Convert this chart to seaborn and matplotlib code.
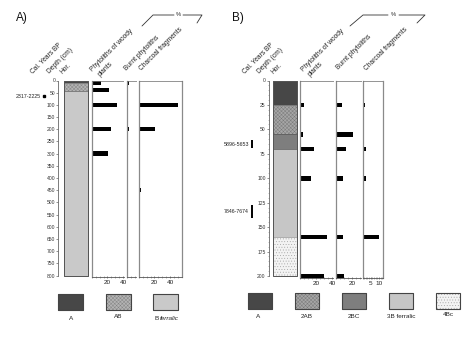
import numpy as np
import pandas as pd
import matplotlib
matplotlib.use("Agg")
import matplotlib.pyplot as plt
import matplotlib.transforms as mtransforms
from matplotlib.patches import Rectangle
from matplotlib.lines import Line2D
import seaborn as sns

sns.set_theme(style="white")
plt.rcParams["font.family"] = ["Liberation Sans", "DejaVu Sans"]
plt.rcParams["hatch.linewidth"] = 0.3

# ---------------- data: profile A ----------------
a_depth = [10, 40, 100, 200, 300, 450]
a_woody = [11, 22, 32, 25, 21, 0]
a_burnt = [2.5, 0, 1, 2, 0, 0]
a_charcoal = [0, 0, 50, 20.5, 1.5, 2.5]
a_hor_names = ["A", "AB", "B ferralic"]
a_hor_top = [0, 10, 45]
a_hor_bottom = [10, 45, 800]
a_dates = ["2317-2225"]
a_date_depth = [65]

# ---------------- data: profile B ----------------
b_depth = [25, 55, 70, 100, 160, 200]
b_woody = [5.4, 3.8, 18, 14, 34, 30]
b_burnt = [7, 21, 12.5, 8.3, 8.3, 10]
b_charcoal = [1.4, 0, 2.2, 2.2, 9.9, 1.2]
b_hor_names = ["A", "2AB", "2BC", "3B ferralic", "4Bc"]
b_hor_top = [0, 25, 55, 70, 160]
b_hor_bottom = [25, 55, 70, 160, 200]
b_dates = ["5896-5653", "7846-7674"]
b_date_top = [61, 127]
b_date_bottom = [69, 141]

headers = ["Cal. Years BP", "Depth (cm)", "Hor."]
col_titles = ["Phytoliths of woody", "plants", "Burnt phytoliths", "Charcoal fragments"]

STYLE = {
    "A": ("#474747", None, "#333333"),
    "AB": ("#b4b4b4", "xxxxxxxxx", "#808080"),
    "B ferralic": ("#c9c9c9", None, "#555555"),
    "2AB": ("#a6a6a6", "xxxxxxxxx", "#767676"),
    "2BC": ("#7e7e7e", None, "#444444"),
    "3B ferralic": ("#c6c6c6", None, "#555555"),
    "4Bc": ("#f3f3f3", "......", "#a0a0a0"),
}

W, H = 474, 351
fig = plt.figure(figsize=(W / 100, H / 100), dpi=100)


def px_axes(x0, y0, x1, y1):
    return fig.add_axes([x0 / W, 1 - y1 / H, (x1 - x0) / W, (y1 - y0) / H])


def fx(x):
    return x / W


def fy(y):
    return 1 - y / H


def column(ax, names, tops, bottoms, ylim, major, minor, offset):
    for n, t, b in zip(names, tops, bottoms):
        fc, hatch, ec = STYLE[n]
        ax.bar(0.5, b - t, bottom=t, width=1.0, color=fc, hatch=hatch,
               edgecolor=ec, linewidth=0.4, clip_on=False)
    ax.bar(0.5, bottoms[-1] - tops[0], bottom=tops[0], width=1.0, fill=False,
           edgecolor="#555555", linewidth=0.7, clip_on=False)
    ax.set_xlim(0, 1)
    ax.set_ylim(*ylim)
    for s in ["top", "right", "bottom"]:
        ax.spines[s].set_visible(False)
    ax.spines["left"].set_position(("outward", offset))
    ax.spines["left"].set_color("#666666")
    ax.spines["left"].set_linewidth(0.6)
    ax.spines["left"].set_bounds(tops[0], bottoms[-1])
    ax.set_xticks([])
    ax.set_yticks(major)
    ax.set_yticks(minor, minor=True)
    ax.tick_params(axis="y", which="major", left=True, length=1.5, width=0.5,
                   color="#666666", labelsize=3.6, pad=0.8, labelcolor="#333333")
    ax.tick_params(axis="y", which="minor", left=True, length=1.0, width=0.4,
                   color="#888888")
    ax.set_facecolor("none")


def bar_panel(ax, depths, values, xmax, ylim, wfrac, labeled, minor, right=False):
    df = pd.DataFrame({"depth": depths, "value": values})
    sns.barplot(data=df, x="value", y="depth", orient="y", native_scale=True,
                color="black", saturation=1, width=wfrac, errorbar=None,
                linewidth=0, ax=ax)
    ax.set_xlim(0, xmax)
    ax.set_ylim(*ylim)
    ax.set_xlabel("")
    ax.set_ylabel("")
    ax.set_yticks([])
    ax.set_xticks(labeled)
    ax.set_xticklabels([str(v) for v in labeled])
    ax.set_xticks(minor, minor=True)
    ax.tick_params(axis="x", which="major", bottom=True, length=2, width=0.5,
                   color="#555555", labelsize=4.6, pad=1, labelcolor="#222222",
                   direction="inout")
    ax.tick_params(axis="x", which="minor", bottom=True, length=1.2, width=0.4,
                   color="#777777", direction="inout")
    ax.spines["left"].set_color("#8a8a8a")
    ax.spines["left"].set_linewidth(0.9)
    ax.spines["top"].set_color("#777777")
    ax.spines["top"].set_linewidth(0.6)
    ax.spines["top"].set_linestyle((0, (1.2, 1.2)))
    ax.spines["bottom"].set_color("#555555")
    ax.spines["bottom"].set_linewidth(0.6)
    ax.spines["right"].set_visible(right)
    ax.spines["right"].set_color("#8a8a8a")
    ax.spines["right"].set_linewidth(0.9)
    ax.set_facecolor("none")


# ================= Profile A =================
yA = (80.5, 277)
ylimA = (806, 0)
axA_col = px_axes(64, yA[0], 88, yA[1])
column(axA_col, a_hor_names, a_hor_top, a_hor_bottom, ylimA,
       list(range(0, 801, 50)), [], 4)

axA1 = px_axes(92, yA[0], 124, yA[1])
bar_panel(axA1, a_depth, a_woody, 41.3, ylimA, 0.6, [20, 40], [0, 5, 10, 15, 25, 30, 35])
axA2 = px_axes(127, yA[0], 136, yA[1])
bar_panel(axA2, a_depth, a_burnt, 11.6, ylimA, 0.6, [], [0, 5, 10])
axA3 = px_axes(139, yA[0], 182, yA[1])
bar_panel(axA3, a_depth, a_charcoal, 55.5, ylimA, 0.6, [20, 40],
          [0, 5, 10, 15, 25, 30, 35, 45, 50], right=True)

blendA = mtransforms.blended_transform_factory(fig.transFigure, axA_col.transData)
for lab, d in zip(a_dates, a_date_depth):
    axA_col.text(fx(41), d, lab, transform=blendA, ha="right", va="center",
                 fontsize=3.8, color="#222222")
    axA_col.plot([fx(44)], [d], transform=blendA, marker="s", ms=1.6,
                 color="black", clip_on=False)

# ================= Profile B =================
yB = (80.5, 278)
ylimB = (202, 0)
axB_col = px_axes(273, yB[0], 297, yB[1])
column(axB_col, b_hor_names, b_hor_top, b_hor_bottom, ylimB,
       list(range(0, 201, 25)), list(range(0, 201, 5)), 3)

axB1 = px_axes(300, yB[0], 333, yB[1])
bar_panel(axB1, b_depth, b_woody, 41.25, ylimB, 0.33, [20, 40], [0, 5, 10, 15, 25, 30, 35])
axB2 = px_axes(336, yB[0], 361, yB[1])
bar_panel(axB2, b_depth, b_burnt, 31.25, ylimB, 0.33, [20], [0, 5, 10, 15, 25, 30])
axB3 = px_axes(362.5, yB[0], 383, yB[1])
bar_panel(axB3, b_depth, b_charcoal, 12.4, ylimB, 0.33, [5, 10], [0, 1, 2, 3, 4, 6, 7, 8, 9, 11, 12],
          right=True)

blendB = mtransforms.blended_transform_factory(fig.transFigure, axB_col.transData)
for lab, t, b in zip(b_dates, b_date_top, b_date_bottom):
    axB_col.text(fx(249), (t + b) / 2, lab, transform=blendB, ha="right",
                 va="center", fontsize=3.8, color="#222222")
    axB_col.plot([fx(252), fx(252)], [t, b], transform=blendB, lw=1.4,
                 color="black", solid_capstyle="butt", clip_on=False)

# ================= headers =================
def rot_text(x, y, s, size=4.8):
    fig.text(fx(x), fy(y), s, rotation=45, rotation_mode="anchor", ha="left",
             va="baseline", fontsize=size, color="#222222")


for xs in ([33, 50, 63], [245, 260, 274]):
    for s, x in zip(headers, xs):
        rot_text(x, 74, s)

rot_text(93, 72, col_titles[0])
rot_text(100, 77, col_titles[1])
rot_text(127, 71, col_titles[2])
rot_text(142, 71, col_titles[3])

rot_text(304, 72, col_titles[0])
rot_text(310, 77, col_titles[1])
rot_text(339, 70, col_titles[2])
rot_text(367, 71, col_titles[3])


def bracket(pts_left, pct, pts_right):
    for pts in (pts_left, pts_right):
        xs = [fx(p[0]) for p in pts]
        ys = [fy(p[1]) for p in pts]
        fig.add_artist(Line2D(xs, ys, lw=0.6, color="#333333"))
    fig.text(fx(pct[0]), fy(pct[1]), "%", ha="center", va="center",
             fontsize=4.2, color="#222222")


bracket([(142, 26), (153, 15), (174, 15)], (178.5, 14.5), [(183, 15), (202, 15), (197, 23)])
bracket([(350, 26), (363, 15), (388, 15)], (393.5, 14.5), [(399, 15), (425, 15), (417, 23)])

fig.text(fx(16), fy(18), "A)", fontsize=8.5, ha="left", va="center", color="#111111")
fig.text(fx(232), fy(18), "B)", fontsize=8.5, ha="left", va="center", color="#111111")

# ================= legends =================
def legend_box(x0, x1, y0, y1, name):
    fc, hatch, ec = STYLE[name]
    fig.add_artist(Rectangle((fx(x0), fy(y1)), fx(x1 - x0), (y1 - y0) / H,
                             transform=fig.transFigure, facecolor=fc,
                             hatch=hatch, edgecolor=ec, linewidth=0.4))
    fig.add_artist(Rectangle((fx(x0), fy(y1)), fx(x1 - x0), (y1 - y0) / H,
                             transform=fig.transFigure, fill=False,
                             edgecolor="#444444", linewidth=0.8))


for name, x0 in zip(a_hor_names, [58, 106, 153]):
    legend_box(x0, x0 + 25, 294, 310, name)
fig.text(fx(71), fy(318), "A", ha="center", va="center", fontsize=4.6, color="#222222")
fig.text(fx(118), fy(317), "AB", ha="center", va="center", fontsize=4.6, color="#222222")
fig.text(fx(158.5), fy(318), "B", ha="right", va="center", fontsize=4.6, color="#222222")
fig.text(fx(159.5), fy(318), "ferralic", ha="left", va="center", fontsize=4.6,
         style="italic", color="#222222")

for name, x0 in zip(b_hor_names, [248, 295, 342, 389, 436]):
    legend_box(x0, x0 + 24, 293, 309, name)
for name, xc, yc in zip(b_hor_names, [258, 307, 354, 401, 448], [316, 316, 316, 316, 314]):
    fig.text(fx(xc), fy(yc), name, ha="center", va="center", fontsize=4.6, color="#222222")

fig.savefig("out.png", dpi=100)
